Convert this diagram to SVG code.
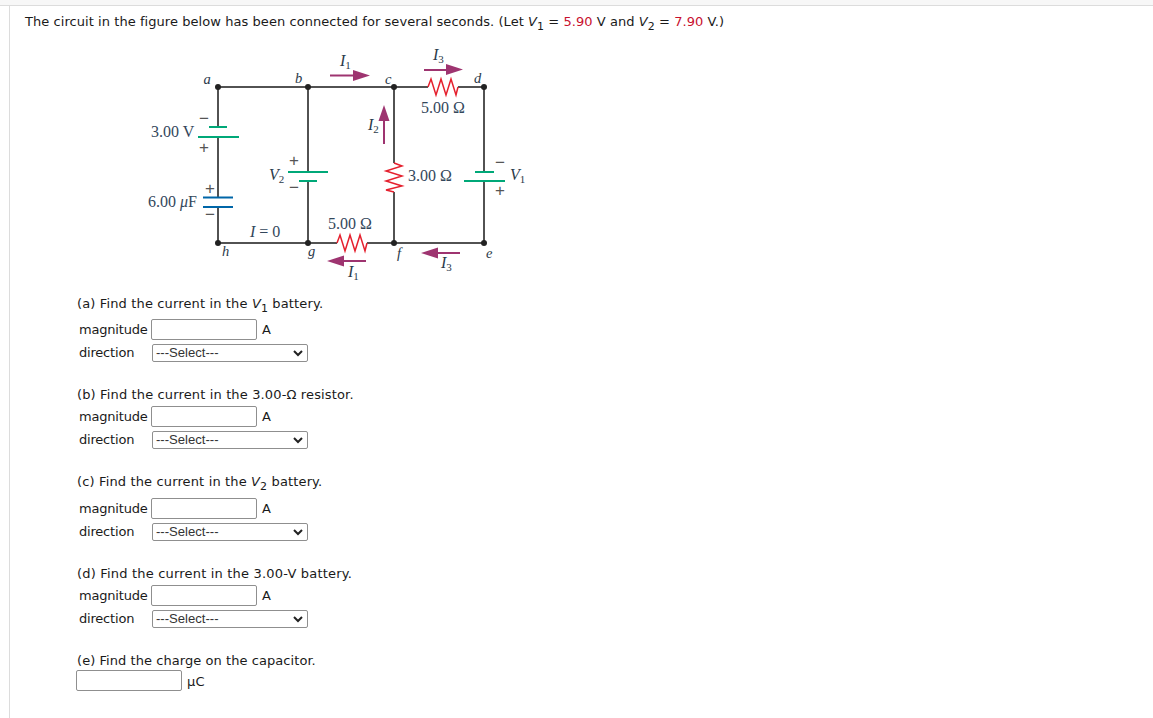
<svg xmlns="http://www.w3.org/2000/svg" width="1153" height="718" viewBox="0 0 1153 718">
<defs>
<style>
.t{font-family:"DejaVu Sans",Verdana,sans-serif;font-size:13px;fill:#1a1a1a;letter-spacing:.14px}
.l1{letter-spacing:-.2px}
.r{fill:#c8102e}
.sel{font-family:"Liberation Sans",Arial,sans-serif;font-size:13.1px;fill:#333}
.m{font-family:"Liberation Serif","Times New Roman",serif;font-size:16px;fill:#33475b}
.i{font-family:"Liberation Serif","Times New Roman",serif;font-size:16px;font-style:italic;fill:#2b3a4a}
.n{font-size:14.5px}
.s{font-size:11px;font-style:normal}
.sg{font-family:"Liberation Sans",Arial,sans-serif;font-size:17px;fill:#555}
.w{stroke:#1a1a1a;stroke-width:1.5;fill:none}
.g{stroke:#00a878;stroke-width:2;fill:none}
.b{stroke:#0066a8;stroke-width:2;fill:none}
.z{stroke:#e5202e;stroke-width:1.500;fill:none}
.a{stroke:#9e3470;stroke-width:2;fill:none}
.h{fill:#9e3470}
.d{fill:#222}
.box{fill:#fff;stroke:#8f8f8f;stroke-width:1}
</style>
<g id="sel"><rect class="box" x="152.500" y="0.500" width="155" height="17" rx="1.500"/><text class="sel" x="156" y="13">---Select---</text><path d="M294 7l4 4 4-4" fill="none" stroke="#222" stroke-width="2"/></g>
</defs>
<rect width="1153" height="718" fill="#fff"/>
<rect width="1153" height="5" fill="#f7f7f7"/>
<path d="M0 5.500H1153M9.500 5V718" stroke="#dcdcdc" stroke-width="1" fill="none"/>
<text class="t" style="letter-spacing:.06px" x="25" y="26">The circuit in the figure below has been connected for several seconds. (Let <tspan font-style="italic">V</tspan><tspan dy="4" font-size="11">1</tspan><tspan dy="-4"> = </tspan><tspan class="r">5.90</tspan> V and <tspan font-style="italic">V</tspan><tspan dy="4" font-size="11">2</tspan><tspan dy="-4"> = </tspan><tspan class="r">7.90</tspan> V.)</text>
<g id="connectors">
<path class="w" d="M218 87H428M458 87H484V172M484 181V243H367M337 243H218V207M218 197.500V137M218 127V87M308 87V172M308 181V243M394 87V163M394 192V243"/>
<path class="a" d="M330 75.500H356M424 70H448M384 144V118M344 261H366M438 253H460"/>
<path class="h" d="M370 75.500L353 70V81ZM463 69.500L446 64V75ZM384 105L378.500 121H389.500ZM327 261L344 255.500V266.500ZM421 253L438 247.500V258.500Z"/>
</g>
<g id="node-a"><circle class="d" cx="218" cy="87" r="3"/><text class="i n" x="203.500" y="84">a</text></g>
<g id="node-b"><circle class="d" cx="308" cy="87" r="3"/><text class="i n" x="295" y="83">b</text></g>
<g id="node-c"><circle class="d" cx="394" cy="87" r="3"/><text class="i n" x="385" y="84">c</text></g>
<g id="node-d"><circle class="d" cx="484" cy="87" r="3"/><text class="i n" x="474" y="83">d</text></g>
<g id="node-e"><circle class="d" cx="484" cy="243" r="3"/><text class="i n" x="486" y="258">e</text></g>
<g id="node-f"><circle class="d" cx="394" cy="243" r="3"/><text class="i n" x="397" y="258">f</text></g>
<g id="node-g"><circle class="d" cx="308" cy="243" r="3"/><text class="i n" x="308" y="256">g</text></g>
<g id="node-h"><circle class="d" cx="218" cy="243" r="3"/><text class="i n" x="222" y="256">h</text></g>
<g id="battery-3v"><path class="g" d="M209 127H227M198 137H239"/><text class="m" x="151" y="137">3.00 V</text><text class="sg" x="199" y="124">−</text><text class="sg" x="199" y="153">+</text></g>
<g id="capacitor"><path class="b" d="M203 197.500H233M203 207H233"/><text class="m" x="148" y="207">6.00 <tspan font-style="italic">μ</tspan>F</text><text class="sg" x="205" y="194">+</text><text class="sg" x="205" y="220">−</text></g>
<g id="battery-v2"><path class="g" d="M288 172H328M299 181H317"/><text class="i" x="269" y="180">V<tspan class="s" dy="3">2</tspan></text><text class="sg" x="289" y="166">+</text><text class="sg" x="289" y="193">−</text></g>
<g id="battery-v1"><path class="g" d="M475 172H494M464 181H505"/><text class="i" x="510" y="180">V<tspan class="s" dy="3">1</tspan></text><text class="sg" x="495" y="168">−</text><text class="sg" x="495" y="196">+</text></g>
<g id="resistor-top"><path class="z" d="M428 87L431 79L436 95L441 79L446 95L451 79L456 95L458 87"/><text class="m" x="421" y="113">5.00 Ω</text></g>
<g id="resistor-mid"><path class="z" d="M394 163L402 166L386 171L402 176L386 181L402 186L386 190L394 192"/><text class="m" x="408" y="181">3.00 Ω</text></g>
<g id="resistor-bottom"><path class="z" d="M337 243L340 235L345 251L350 235L355 251L360 235L365 251L367 243"/><text class="m" x="328" y="229">5.00 Ω</text></g>
<g id="labels">
<text class="i" x="340" y="66">I<tspan class="s" dy="3">1</tspan></text>
<text class="i" x="433" y="60">I<tspan class="s" dy="3">3</tspan></text>
<text class="i" x="368" y="130">I<tspan class="s" dy="3">2</tspan></text>
<text class="i" x="348" y="277">I<tspan class="s" dy="3">1</tspan></text>
<text class="i" x="441" y="268">I<tspan class="s" dy="3">3</tspan></text>
<text class="m" x="250" y="237"><tspan font-style="italic">I</tspan> = 0</text>
</g>
<g id="part-a"><text class="t" x="77" y="308">(a) Find the current in the <tspan font-style="italic">V</tspan><tspan dy="4" font-size="11">1</tspan><tspan dy="-4"> battery.</tspan></text><text class="t l1" x="79" y="334">magnitude</text><rect class="box" x="151.500" y="319.500" width="105" height="20" rx="1.500"/><text class="t" x="262" y="334" font-size="11">A</text><text class="t l1" x="79" y="357">direction</text><use href="#sel" y="344"/></g>
<g id="part-b"><text class="t" x="77" y="399">(b) Find the current in the 3.00-Ω resistor.</text><text class="t l1" x="79" y="421">magnitude</text><rect class="box" x="151.500" y="406.500" width="105" height="20" rx="1.500"/><text class="t" x="262" y="421" font-size="11">A</text><text class="t l1" x="79" y="444">direction</text><use href="#sel" y="431"/></g>
<g id="part-c"><text class="t" x="77" y="486">(c) Find the current in the <tspan font-style="italic">V</tspan><tspan dy="4" font-size="11">2</tspan><tspan dy="-4"> battery.</tspan></text><text class="t l1" x="79" y="513">magnitude</text><rect class="box" x="151.500" y="498.500" width="105" height="20" rx="1.500"/><text class="t" x="262" y="513" font-size="11">A</text><text class="t l1" x="79" y="536">direction</text><use href="#sel" y="523"/></g>
<g id="part-d"><text class="t" style="letter-spacing:.19px" x="77" y="578">(d) Find the current in the 3.00-V battery.</text><text class="t l1" x="79" y="600">magnitude</text><rect class="box" x="151.500" y="585.500" width="105" height="20" rx="1.500"/><text class="t" x="262" y="600" font-size="11">A</text><text class="t l1" x="79" y="623">direction</text><use href="#sel" y="610"/></g>
<g id="part-e"><text class="t" style="letter-spacing:.06px" x="77" y="665">(e) Find the charge on the capacitor.</text><rect class="box" x="76.500" y="670.500" width="105" height="20" rx="1.500"/><text class="t" x="187" y="686">μC</text></g>
</svg>
